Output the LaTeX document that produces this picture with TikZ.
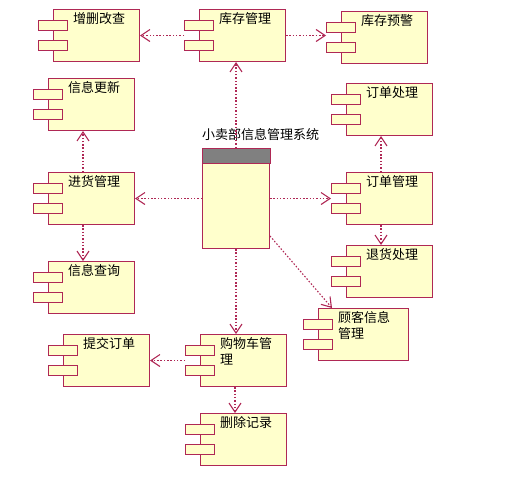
\documentclass[tikz,border=0pt]{standalone}
\usepackage{fontspec}
\newfontfamily\cjk{Noto Sans CJK SC}
\usetikzlibrary{arrows.meta,calc}

\definecolor{umlred}{RGB}{175,40,85}
\definecolor{compfill}{RGB}{255,255,204}
\definecolor{headgray}{RGB}{128,128,128}

\tikzset{
  compbody/.style={draw=umlred, fill=compfill, line width=1pt, anchor=north west,
    minimum height=52pt, inner sep=0pt},
  comptab/.style={draw=umlred, fill=compfill, line width=1pt},
  complabel/.style={anchor=north west, inner sep=0pt, align=left,
    font=\cjk\fontsize{13}{16}\selectfont},
  dep/.style={umlred, line width=1.1pt, dash pattern=on 1.5pt off 1.8pt,
    -{Straight Barb[length=9pt,width=12pt]}},
}

% component: [width] name, x, y (top left of body), label
\newcommand{\umlcomp}[5][86]{%
  \node[compbody, minimum width=#1pt] (#2) at (#3,#4) {};
  \draw[comptab] ($(#2.north west)+(-15,11)$) rectangle ++(29,10);
  \draw[comptab] ($(#2.north west)+(-15,31)$) rectangle ++(29,10);
  \coordinate (#2 w) at ($(#2.west)+(-15,0)$);
  \node[complabel] at ($(#2.north west)+(20,3)$) {#5};
}

\begin{document}
\begin{tikzpicture}[x=1pt, y=-1pt]
  \useasboundingbox (0,0) rectangle (519,477);

  % system
  \node[compbody, minimum width=67pt, minimum height=100pt] (sys) at (202,148) {};
  \draw[draw=umlred, fill=headgray, line width=1pt]
    (sys.north west) rectangle ($(sys.north east)+(0,15)$);
  \node[complabel] (systitle) at ($(sys.north west)+(0,-20)$) {小卖部信息管理系统};

  % components
  \umlcomp{zsgc}{53}{9}{增删改查}
  \umlcomp{kcgl}{199}{9}{库存管理}
  \umlcomp{kcyj}{341}{11}{库存预警}
  \umlcomp{xxgx}{48}{78}{信息更新}
  \umlcomp{jhgl}{48}{172}{进货管理}
  \umlcomp{xxcx}{48}{261}{信息查询}
  \umlcomp{ddcl}{346}{83}{订单处理}
  \umlcomp{ddgl}{346}{172}{订单管理}
  \umlcomp{thcl}{346}{245}{退货处理}
  \umlcomp[90]{gkxx}{318}{308}{顾客信息\\管理}
  \umlcomp{gwc}{200}{334}{购物车管\\理}
  \umlcomp{tjdd}{63}{334}{提交订单}
  \umlcomp{scjl}{200}{413}{删除记录}

  % dependencies
  \draw[dep] (sys.north) -- (sys.north |- kcgl.south);
  \draw[dep] (kcgl w) -- (kcgl w -| zsgc.east);
  \draw[dep] (kcgl.east) -- (kcgl.east -| kcyj w);
  \draw[dep] (sys.west) -- (sys.west -| jhgl.east);
  \draw[dep] (sys.east) -- (sys.east -| ddgl w);
  \draw[dep] ($(jhgl.north west)+(35,0)$) -- ($(xxgx.south west)+(35,0)$);
  \draw[dep] ($(jhgl.south west)+(35,0)$) -- ($(xxcx.north west)+(35,0)$);
  \draw[dep] ($(ddgl.north west)+(35,0)$) -- ($(ddcl.south west)+(35,0)$);
  \draw[dep] ($(ddgl.south west)+(35,0)$) -- ($(thcl.north west)+(35,0)$);
  \draw[dep] ($(sys.south east)+(0,-13)$) -- ($(gkxx.north west)+(14,0)$);
  \draw[dep] (sys.south) -- (sys.south |- gwc.north);
  \draw[dep] (gwc w) -- (gwc w -| tjdd.east);
  \draw[dep] ($(gwc.south west)+(35,0)$) -- ($(scjl.north west)+(35,0)$);
\end{tikzpicture}
\end{document}
